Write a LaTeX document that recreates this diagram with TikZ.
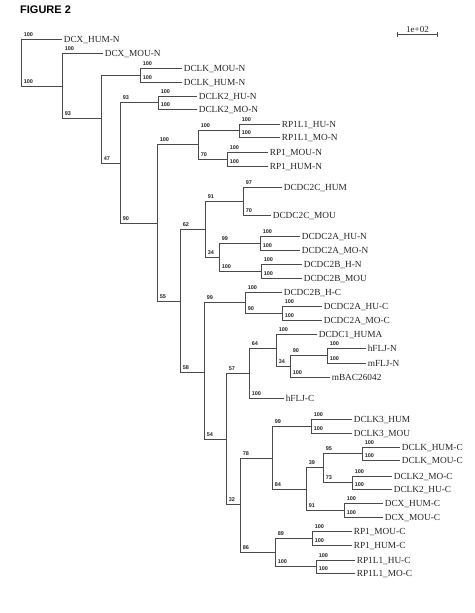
\documentclass[tikz,border=0pt]{standalone}
\usepackage{fontspec}
\setmainfont{Liberation Serif}
\newfontfamily\sansf{Liberation Sans}
\usetikzlibrary{arrows.meta}
\definecolor{treeline}{HTML}{4A4A4A}
\definecolor{treetext}{HTML}{262626}
\tikzset{
  br/.style={draw=treeline, line width=0.9pt},
  leaf/.style={anchor=west, inner xsep=1.6pt, inner ysep=0pt, text height=6.1pt, text depth=0pt,
    font=\fontsize{9.3}{10}\selectfont, text=treetext},
  bs/.style={pos=0.5, anchor=south west, inner sep=0pt, xshift=2.4pt, yshift=2.4pt,
    font=\sansf\bfseries\fontsize{5.5}{6.5}\selectfont, text=treetext},
}
\begin{document}
\begin{tikzpicture}[x=1pt,y=-1pt]
\fill[white] (0,0) rectangle (474,613);
\useasboundingbox (0,0) rectangle (474,613);
\node[anchor=west, inner sep=0pt, font=\sansf\bfseries\fontsize{11}{13}\selectfont] (title) at (20,10) {FIGURE 2};
% scale bar
\coordinate (sbL) at (397,34);
\coordinate (sbR) at (438,34);
\draw[br, {Bar[width=5pt]}-{Bar[width=5pt]}] (sbL) -- node[above, inner sep=1pt, font=\fontsize{9}{10}\selectfont, text=treetext] (sblab) {1e+02} (sbR);
% internal nodes
\coordinate (root) at (21,62.5);
\coordinate (n1) at (62,86);
\coordinate (n2) at (101,118);
\coordinate (n3) at (140,75);
\coordinate (n4) at (120,163);
\coordinate (n5) at (158,102.5);
\coordinate (n6) at (157,223);
\coordinate (n7) at (198,144);
\coordinate (n8) at (239,130.5);
\coordinate (n9) at (227,159);
\coordinate (n10) at (180,301);
\coordinate (n11) at (205,229);
\coordinate (n12) at (243,201);
\coordinate (n13) at (219,257);
\coordinate (n14) at (260,243);
\coordinate (n15) at (261,271);
\coordinate (n16) at (204,372);
\coordinate (n17) at (245,302.5);
\coordinate (n18) at (282,313);
\coordinate (n19) at (226,439);
\coordinate (n20) at (249,373);
\coordinate (n21) at (276,348);
\coordinate (n22) at (290,366);
\coordinate (n23) at (327,355.5);
\coordinate (n24) at (240,504);
\coordinate (n25) at (272,458);
\coordinate (n26) at (311,426);
\coordinate (n27) at (306,489);
\coordinate (n28) at (323,467);
\coordinate (n29) at (362,453.5);
\coordinate (n30) at (352,482.5);
\coordinate (n31) at (344,510);
\coordinate (n32) at (275,552);
\coordinate (n33) at (312,538);
\coordinate (n34) at (316,566.5);
% leaves
\node[leaf] (l1) at (62,39) {DCX\_HUM-N};
\node[leaf] (l2) at (103,53) {DCX\_MOU-N};
\node[leaf] (l3) at (182,68) {DCLK\_MOU-N};
\node[leaf] (l4) at (182,82) {DCLK\_HUM-N};
\node[leaf] (l5) at (197,96) {DCLK2\_HU-N};
\node[leaf] (l6) at (197,109) {DCLK2\_MO-N};
\node[leaf] (l7) at (280,124) {RP1L1\_HU-N};
\node[leaf] (l8) at (280,137) {RP1L1\_MO-N};
\node[leaf] (l9) at (268,152) {RP1\_MOU-N};
\node[leaf] (l10) at (268,166) {RP1\_HUM-N};
\node[leaf] (l11) at (282,187) {DCDC2C\_HUM};
\node[leaf] (l12) at (271,215) {DCDC2C\_MOU};
\node[leaf] (l13) at (300,236) {DCDC2A\_HU-N};
\node[leaf] (l14) at (300,250) {DCDC2A\_MO-N};
\node[leaf] (l15) at (302,264) {DCDC2B\_H-N};
\node[leaf] (l16) at (302,278) {DCDC2B\_MOU};
\node[leaf] (l17) at (282,292) {DCDC2B\_H-C};
\node[leaf] (l18) at (322,306) {DCDC2A\_HU-C};
\node[leaf] (l19) at (322,320) {DCDC2A\_MO-C};
\node[leaf] (l20) at (317,334) {DCDC1\_HUMA};
\node[leaf] (l21) at (366,348) {hFLJ-N};
\node[leaf] (l22) at (366,363) {mFLJ-N};
\node[leaf] (l23) at (330,377) {mBAC26042};
\node[leaf] (l24) at (284,398) {hFLJ-C};
\node[leaf] (l25) at (352,419) {DCLK3\_HUM};
\node[leaf] (l26) at (352,433) {DCLK3\_MOU};
\node[leaf] (l27) at (400,447) {DCLK\_HUM-C};
\node[leaf] (l28) at (400,460) {DCLK\_MOU-C};
\node[leaf] (l29) at (392,476) {DCLK2\_MO-C};
\node[leaf] (l30) at (392,489) {DCLK2\_HU-C};
\node[leaf] (l31) at (383,503) {DCX\_HUM-C};
\node[leaf] (l32) at (383,517) {DCX\_MOU-C};
\node[leaf] (l33) at (352,531) {RP1\_MOU-C};
\node[leaf] (l34) at (352,545) {RP1\_HUM-C};
\node[leaf] (l35) at (355,560) {RP1L1\_HU-C};
\node[leaf] (l36) at (355,573) {RP1L1\_MO-C};
% branches
\draw[br] (root) |- node[bs]{100} (l1.west);
\draw[br] (root) |- node[bs]{100} (n1);
\draw[br] (n1) |- node[bs]{100} (l2.west);
\draw[br] (n1) |- node[bs]{93} (n2);
\draw[br] (n2) |- (n3);
\draw[br] (n3) |- node[bs]{100} (l3.west);
\draw[br] (n3) |- node[bs]{100} (l4.west);
\draw[br] (n2) |- node[bs]{47} (n4);
\draw[br] (n4) |- node[bs]{93} (n5);
\draw[br] (n5) |- node[bs]{100} (l5.west);
\draw[br] (n5) |- node[bs]{100} (l6.west);
\draw[br] (n4) |- node[bs]{90} (n6);
\draw[br] (n6) |- node[bs]{100} (n7);
\draw[br] (n7) |- node[bs]{100} (n8);
\draw[br] (n8) |- node[bs]{100} (l7.west);
\draw[br] (n8) |- node[bs]{100} (l8.west);
\draw[br] (n7) |- node[bs]{70} (n9);
\draw[br] (n9) |- node[bs]{100} (l9.west);
\draw[br] (n9) |- node[bs]{100} (l10.west);
\draw[br] (n6) |- node[bs]{55} (n10);
\draw[br] (n10) |- node[bs]{62} (n11);
\draw[br] (n11) |- node[bs]{91} (n12);
\draw[br] (n12) |- node[bs]{97} (l11.west);
\draw[br] (n12) |- node[bs]{70} (l12.west);
\draw[br] (n11) |- node[bs]{34} (n13);
\draw[br] (n13) |- node[bs]{99} (n14);
\draw[br] (n14) |- node[bs]{100} (l13.west);
\draw[br] (n14) |- node[bs]{100} (l14.west);
\draw[br] (n13) |- node[bs]{100} (n15);
\draw[br] (n15) |- node[bs]{100} (l15.west);
\draw[br] (n15) |- node[bs]{100} (l16.west);
\draw[br] (n10) |- node[bs]{58} (n16);
\draw[br] (n16) |- node[bs]{99} (n17);
\draw[br] (n17) |- node[bs]{100} (l17.west);
\draw[br] (n17) |- node[bs]{90} (n18);
\draw[br] (n18) |- node[bs]{100} (l18.west);
\draw[br] (n18) |- node[bs]{100} (l19.west);
\draw[br] (n16) |- node[bs]{54} (n19);
\draw[br] (n19) |- node[bs]{57} (n20);
\draw[br] (n20) |- node[bs]{64} (n21);
\draw[br] (n21) |- node[bs]{100} (l20.west);
\draw[br] (n21) |- node[bs]{34} (n22);
\draw[br] (n22) |- node[bs]{90} (n23);
\draw[br] (n23) |- node[bs]{100} (l21.west);
\draw[br] (n23) |- node[bs]{100} (l22.west);
\draw[br] (n22) |- node[bs]{100} (l23.west);
\draw[br] (n20) |- node[bs]{100} (l24.west);
\draw[br] (n19) |- node[bs]{32} (n24);
\draw[br] (n24) |- node[bs]{78} (n25);
\draw[br] (n25) |- node[bs]{99} (n26);
\draw[br] (n26) |- node[bs]{100} (l25.west);
\draw[br] (n26) |- node[bs]{100} (l26.west);
\draw[br] (n25) |- node[bs]{84} (n27);
\draw[br] (n27) |- node[bs]{39} (n28);
\draw[br] (n28) |- node[bs]{95} (n29);
\draw[br] (n29) |- node[bs]{100} (l27.west);
\draw[br] (n29) |- node[bs]{100} (l28.west);
\draw[br] (n28) |- node[bs]{73} (n30);
\draw[br] (n30) |- node[bs]{100} (l29.west);
\draw[br] (n30) |- node[bs]{100} (l30.west);
\draw[br] (n27) |- node[bs]{91} (n31);
\draw[br] (n31) |- node[bs]{100} (l31.west);
\draw[br] (n31) |- node[bs]{100} (l32.west);
\draw[br] (n24) |- node[bs]{86} (n32);
\draw[br] (n32) |- node[bs]{89} (n33);
\draw[br] (n33) |- node[bs]{100} (l33.west);
\draw[br] (n33) |- node[bs]{100} (l34.west);
\draw[br] (n32) |- node[bs]{100} (n34);
\draw[br] (n34) |- node[bs]{100} (l35.west);
\draw[br] (n34) |- node[bs]{100} (l36.west);
\end{tikzpicture}
\end{document}
